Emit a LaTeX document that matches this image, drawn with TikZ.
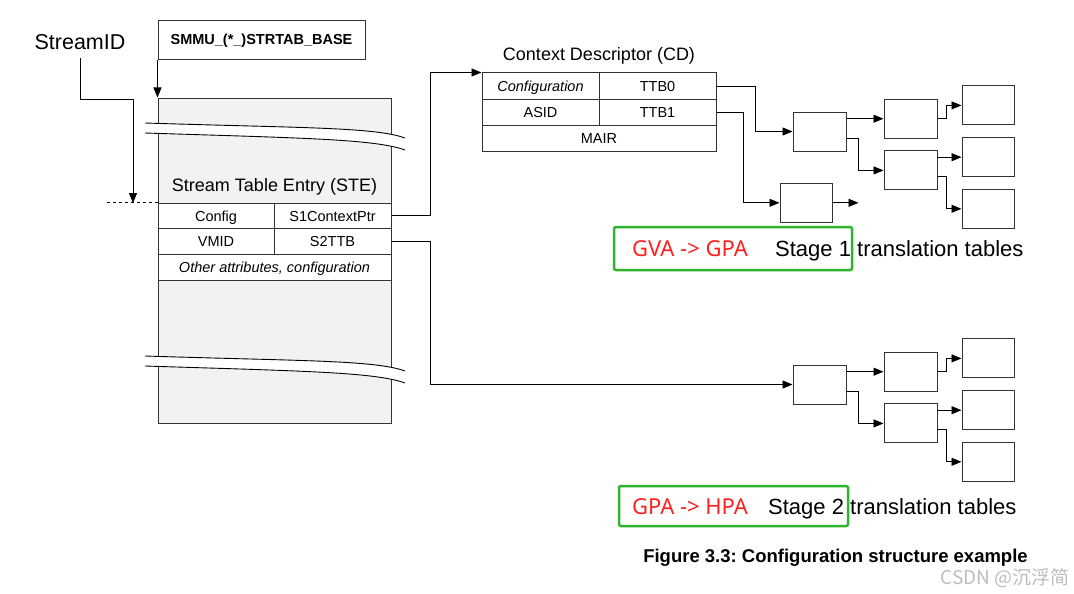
\documentclass[tikz,border=0pt]{standalone}
\usepackage{fontspec}
\setmainfont{Liberation Sans}
\newfontfamily\redfont{Noto Sans}
\newfontfamily\cjkfont{Noto Sans CJK SC}
\usepackage{tikz}
\usetikzlibrary{arrows.meta, positioning, calc}
\usepackage{xcolor}
\definecolor{lineC}{HTML}{333333}
\definecolor{grayF}{HTML}{F2F2F2}
\definecolor{greenC}{HTML}{2DB52D}
\definecolor{redC}{HTML}{FF2020}
\definecolor{markC}{HTML}{BDBDBD}
\newcommand{\fsz}[1]{\fontsize{#1}{#1}\selectfont}
\frenchspacing
\tikzset{
  cell/.style={rectangle, draw=lineC, fill=white, line width=1pt, inner sep=0pt, minimum height=26pt, text height=11pt, text depth=0pt, font=\fsz{14.5}},
  tbox/.style={rectangle, draw=lineC, fill=white, line width=1pt, minimum width=53pt, minimum height=39pt},
  arw/.style={-{Triangle[length=10pt,width=8pt]}, line width=0.9pt, draw=black},
  ttl/.style={font=\fsz{18}, inner sep=0pt},
  big/.style={font=\fsz{22}, inner sep=0pt},
  red/.style={font=\redfont\fsz{22}, text=redC, inner sep=0pt},
  hl/.style={rectangle, draw=greenC, line width=2.5pt, rounded corners=2pt},
  brk/.style={draw=black, line width=0.9pt}
}

\begin{document}
\begin{tikzpicture}[x=1pt, y=-1pt]
  \useasboundingbox[fill=white] (0,0) rectangle (1074,594);

  % ── Stream table ──
  \node[rectangle, draw=lineC, fill=grayF, line width=1pt, minimum width=233pt, minimum height=325pt] (ste) at (274.5,260.5) {};
  \node[rectangle, draw=lineC, line width=1pt, minimum width=207pt, minimum height=39pt, font=\fsz{14.5}\bfseries] (base) at (261.5,40.5) {SMMU\_(*\_)STRTAB\_BASE};
  \node[font=\fsz{21.5}, inner sep=0pt, anchor=base] (sid) at (80,50) {StreamID};
  \node[ttl, anchor=base] (steT) at (274.5,191) {Stream Table Entry (STE)};
  \node[cell, minimum width=116pt, minimum height=25pt] (config) at (216,215.5) {Config};
  \node[cell, minimum width=117pt, minimum height=25pt] (s1ptr) at (332.5,215.5) {S1ContextPtr};
  \node[cell, minimum width=116pt] (vmid) at (216,241) {VMID};
  \node[cell, minimum width=117pt] (s2ttb) at (332.5,241) {S2TTB};
  \node[cell, minimum width=233pt, font=\fsz{14.5}\itshape] (other) at (274.5,267) {Other attributes, configuration};

  % ── Breaks ──
  \foreach \y in {123,356} {
    \fill[white] (145,\y) .. controls (300,\y+5) and (375,\y+4) .. (405,\y+15) -- (405,\y+27) .. controls (375,\y+16) and (300,\y+15) .. (145,\y+10) -- cycle;
    \draw[brk] (145,\y) .. controls (300,\y+5) and (375,\y+4) .. (405,\y+15);
    \draw[brk] (145,\y+10) .. controls (300,\y+15) and (375,\y+16) .. (405,\y+27);
  }

  % ── Context descriptor ──
  \node[ttl, anchor=base] (cdT) at (599,61) {Context Descriptor (CD)};
  \node[cell, minimum width=117pt, font=\fsz{14.5}\itshape] (cdcfg) at (540.5,86) {Configuration};
  \node[cell, minimum width=117pt] (ttb0) at (657.5,86) {TTB0};
  \node[cell, minimum width=117pt] (asid) at (540.5,112) {ASID};
  \node[cell, minimum width=117pt] (ttb1) at (657.5,112) {TTB1};
  \node[cell, minimum width=234pt] (mair) at (599,138) {MAIR};

  % ── Translation tables ──
  \foreach \s/\dy in {1/0, 2/253} {
    \node[tbox] (r\s) at (819.5,131.5+\dy) {};
    \node[tbox] (ma\s) at (910.5,118.7+\dy) {};
    \node[tbox] (mb\s) at (910.5,170.4+\dy) {};
    \node[tbox, minimum width=52pt] (la\s) at (988,105.4+\dy) {};
    \node[tbox, minimum width=52pt] (lb\s) at (988,157.2+\dy) {};
    \node[tbox, minimum width=52pt] (lc\s) at (988,208.8+\dy) {};
    \draw[arw] (ma\s.west -| r\s.east) -- (ma\s.west);
    \draw[arw] ([yshift=-6.5pt]r\s.east) -- ++(12,0) |- (mb\s.west);
    \draw[arw] (ma\s.east) -- ++(9,0) |- (la\s.west);
    \draw[arw] (lb\s.west -| mb\s.east) -- (lb\s.west);
    \draw[arw] ([yshift=-6.5pt]mb\s.east) -- ++(9,0) |- (lc\s.west);
  }
  \node[tbox, minimum width=52pt] (s1x) at (806,202.8) {};

  % ── Connectors ──
  \coordinate (entry) at (133,203);
  \draw[arw] (base.south west) -- (ste.north west);
  \draw[dashed, line width=0.9pt] (config.north west) -- ++(-51,0) coordinate (dashEnd);
  \draw[arw] ([yshift=-8pt]sid.base) |- ++(53,41) -- (entry);
  \draw[arw] (s1ptr.east) -- ++(39,0) |- (cdcfg.north west);
  \draw[arw] (s2ttb.east) -- ++(39,0) |- (r2.west);
  \draw[arw] (ttb0.east) -- ++(39,0) |- (r1.west);
  \draw[arw] (ttb1.east) -- ++(27,0) |- (s1x.west);
  \draw[arw] (s1x.east) -- ++(26,0) coordinate (s1xOut);

  % ── Stage labels ──
  \node[hl, minimum width=238pt, minimum height=43pt] (hl1) at (733,248.5) {};
  \node[red, anchor=base] (gva) at (690,256.5) {GVA -> GPA};
  \node[big, anchor=base west] (st1) at (775,256.5) {Stage 1 translation tables};
  \node[hl, minimum width=229pt, minimum height=40pt] (hl2) at (733.5,506) {};
  \node[red, anchor=base] (gpa) at (690,514) {GPA -> HPA};
  \node[big, anchor=base west] (st2) at (768,514) {Stage 2 translation tables};

  \node[font=\fsz{18.5}\bfseries, inner sep=0pt, anchor=base] (cap) at (835.5,562) {Figure 3.3: Configuration structure example};
  \node[font=\cjkfont\fsz{19}, text=markC, inner sep=0pt, anchor=base east] (wm) at (1070,584) {CSDN @沉浮简};
\end{tikzpicture}
\end{document}
